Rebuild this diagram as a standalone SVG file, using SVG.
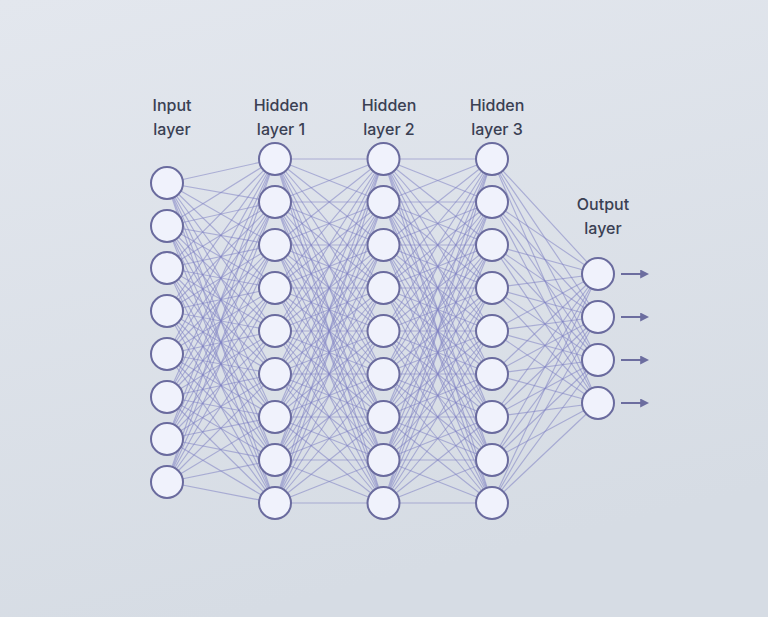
<svg xmlns="http://www.w3.org/2000/svg" width="768" height="617" viewBox="0 0 768 617">
<defs>
<linearGradient id="bg" x1="0" y1="0" x2="0.3" y2="1">
<stop offset="0" stop-color="#e3e7ee"/>
<stop offset="1" stop-color="#d6dce4"/>
</linearGradient>
<marker id="arr" viewBox="0 0 10 10" refX="2" refY="5" markerWidth="4.5" markerHeight="4.5" orient="auto" markerUnits="strokeWidth">
<path d="M0 0L10 5L0 10z" fill="#6c6d9f"/>
</marker>
<style>
.n{fill:#f0f2fc;stroke:#6a6b9e;stroke-width:2}
.e path{fill:none;stroke:#7f81c2;stroke-opacity:0.55;stroke-width:1.15}
.lbl{font-family:Inter,"Liberation Sans",sans-serif;font-size:16px;font-weight:500;fill:#3a4053;text-anchor:middle}
.ar{stroke:#6c6d9f;stroke-width:2}
</style>
</defs>
<rect width="768" height="617" fill="url(#bg)"/>

<g id="connectors">
<g class="e" id="edges-0-1">
<path d="M275 159L167 183 275 202 167 183 275 245 167 183 275 288 167 183 275 331 167 183 275 374 167 183 275 417 167 183 275 460 167 183 275 503"/>
<path d="M275 159L167 226 275 202 167 226 275 245 167 226 275 288 167 226 275 331 167 226 275 374 167 226 275 417 167 226 275 460 167 226 275 503"/>
<path d="M275 159L167 268 275 202 167 268 275 245 167 268 275 288 167 268 275 331 167 268 275 374 167 268 275 417 167 268 275 460 167 268 275 503"/>
<path d="M275 159L167 311 275 202 167 311 275 245 167 311 275 288 167 311 275 331 167 311 275 374 167 311 275 417 167 311 275 460 167 311 275 503"/>
<path d="M275 159L167 354 275 202 167 354 275 245 167 354 275 288 167 354 275 331 167 354 275 374 167 354 275 417 167 354 275 460 167 354 275 503"/>
<path d="M275 159L167 397 275 202 167 397 275 245 167 397 275 288 167 397 275 331 167 397 275 374 167 397 275 417 167 397 275 460 167 397 275 503"/>
<path d="M275 159L167 439 275 202 167 439 275 245 167 439 275 288 167 439 275 331 167 439 275 374 167 439 275 417 167 439 275 460 167 439 275 503"/>
<path d="M275 159L167 482 275 202 167 482 275 245 167 482 275 288 167 482 275 331 167 482 275 374 167 482 275 417 167 482 275 460 167 482 275 503"/>
</g>
<g class="e" id="edges-1-2">
<path d="M383.5 159L275 159 383.5 202 275 159 383.5 245 275 159 383.5 288 275 159 383.5 331 275 159 383.5 374 275 159 383.5 417 275 159 383.5 460 275 159 383.5 503"/>
<path d="M383.5 159L275 202 383.5 202 275 202 383.5 245 275 202 383.5 288 275 202 383.5 331 275 202 383.5 374 275 202 383.5 417 275 202 383.5 460 275 202 383.5 503"/>
<path d="M383.5 159L275 245 383.5 202 275 245 383.5 245 275 245 383.5 288 275 245 383.5 331 275 245 383.5 374 275 245 383.5 417 275 245 383.5 460 275 245 383.5 503"/>
<path d="M383.5 159L275 288 383.5 202 275 288 383.5 245 275 288 383.5 288 275 288 383.5 331 275 288 383.5 374 275 288 383.5 417 275 288 383.5 460 275 288 383.5 503"/>
<path d="M383.5 159L275 331 383.5 202 275 331 383.5 245 275 331 383.5 288 275 331 383.5 331 275 331 383.5 374 275 331 383.5 417 275 331 383.5 460 275 331 383.5 503"/>
<path d="M383.5 159L275 374 383.5 202 275 374 383.5 245 275 374 383.5 288 275 374 383.5 331 275 374 383.5 374 275 374 383.5 417 275 374 383.5 460 275 374 383.5 503"/>
<path d="M383.5 159L275 417 383.5 202 275 417 383.5 245 275 417 383.5 288 275 417 383.5 331 275 417 383.5 374 275 417 383.5 417 275 417 383.5 460 275 417 383.5 503"/>
<path d="M383.5 159L275 460 383.5 202 275 460 383.5 245 275 460 383.5 288 275 460 383.5 331 275 460 383.5 374 275 460 383.5 417 275 460 383.5 460 275 460 383.5 503"/>
<path d="M383.5 159L275 503 383.5 202 275 503 383.5 245 275 503 383.5 288 275 503 383.5 331 275 503 383.5 374 275 503 383.5 417 275 503 383.5 460 275 503 383.5 503"/>
</g>
<use href="#edges-1-2" id="edges-2-3" transform="translate(108.5 0)"/>
<g class="e" id="edges-3-4">
<path d="M492 159L598 274 492 202 598 274 492 245 598 274 492 288 598 274 492 331 598 274 492 374 598 274 492 417 598 274 492 460 598 274 492 503"/>
<path d="M492 159L598 317 492 202 598 317 492 245 598 317 492 288 598 317 492 331 598 317 492 374 598 317 492 417 598 317 492 460 598 317 492 503"/>
<path d="M492 159L598 360 492 202 598 360 492 245 598 360 492 288 598 360 492 331 598 360 492 374 598 360 492 417 598 360 492 460 598 360 492 503"/>
<path d="M492 159L598 403 492 202 598 403 492 245 598 403 492 288 598 403 492 331 598 403 492 374 598 403 492 417 598 403 492 460 598 403 492 503"/>
</g>
<g id="outputs">
<line class="ar" x1="621" y1="274" x2="642" y2="274" marker-end="url(#arr)"/>
<line class="ar" x1="621" y1="317" x2="642" y2="317" marker-end="url(#arr)"/>
<line class="ar" x1="621" y1="360" x2="642" y2="360" marker-end="url(#arr)"/>
<line class="ar" x1="621" y1="403" x2="642" y2="403" marker-end="url(#arr)"/>
</g>
</g>

<g id="labels">
<text class="lbl" x="172" y="110.5">Input</text>
<text class="lbl" x="172" y="134.5">layer</text>
<text class="lbl" x="281" y="110.5">Hidden</text>
<text class="lbl" x="281" y="134.5">layer 1</text>
<text class="lbl" x="389" y="110.5">Hidden</text>
<text class="lbl" x="389" y="134.5">layer 2</text>
<text class="lbl" x="497" y="110.5">Hidden</text>
<text class="lbl" x="497" y="134.5">layer 3</text>
<text class="lbl" x="603" y="209.5">Output</text>
<text class="lbl" x="603" y="233.5">layer</text>
</g>

<g id="input-layer">
<g id="in1"><circle class="n" cx="167" cy="183" r="16"/></g>
<g id="in2"><circle class="n" cx="167" cy="226" r="16"/></g>
<g id="in3"><circle class="n" cx="167" cy="268" r="16"/></g>
<g id="in4"><circle class="n" cx="167" cy="311" r="16"/></g>
<g id="in5"><circle class="n" cx="167" cy="354" r="16"/></g>
<g id="in6"><circle class="n" cx="167" cy="397" r="16"/></g>
<g id="in7"><circle class="n" cx="167" cy="439" r="16"/></g>
<g id="in8"><circle class="n" cx="167" cy="482" r="16"/></g>
</g>
<g id="hidden-layer-1">
<g id="h1n1"><circle class="n" cx="275" cy="159" r="16"/></g>
<g id="h1n2"><circle class="n" cx="275" cy="202" r="16"/></g>
<g id="h1n3"><circle class="n" cx="275" cy="245" r="16"/></g>
<g id="h1n4"><circle class="n" cx="275" cy="288" r="16"/></g>
<g id="h1n5"><circle class="n" cx="275" cy="331" r="16"/></g>
<g id="h1n6"><circle class="n" cx="275" cy="374" r="16"/></g>
<g id="h1n7"><circle class="n" cx="275" cy="417" r="16"/></g>
<g id="h1n8"><circle class="n" cx="275" cy="460" r="16"/></g>
<g id="h1n9"><circle class="n" cx="275" cy="503" r="16"/></g>
</g>
<g id="hidden-layer-2">
<g id="h2n1"><circle class="n" cx="383.5" cy="159" r="16"/></g>
<g id="h2n2"><circle class="n" cx="383.5" cy="202" r="16"/></g>
<g id="h2n3"><circle class="n" cx="383.5" cy="245" r="16"/></g>
<g id="h2n4"><circle class="n" cx="383.5" cy="288" r="16"/></g>
<g id="h2n5"><circle class="n" cx="383.5" cy="331" r="16"/></g>
<g id="h2n6"><circle class="n" cx="383.5" cy="374" r="16"/></g>
<g id="h2n7"><circle class="n" cx="383.5" cy="417" r="16"/></g>
<g id="h2n8"><circle class="n" cx="383.5" cy="460" r="16"/></g>
<g id="h2n9"><circle class="n" cx="383.5" cy="503" r="16"/></g>
</g>
<g id="hidden-layer-3">
<g id="h3n1"><circle class="n" cx="492" cy="159" r="16"/></g>
<g id="h3n2"><circle class="n" cx="492" cy="202" r="16"/></g>
<g id="h3n3"><circle class="n" cx="492" cy="245" r="16"/></g>
<g id="h3n4"><circle class="n" cx="492" cy="288" r="16"/></g>
<g id="h3n5"><circle class="n" cx="492" cy="331" r="16"/></g>
<g id="h3n6"><circle class="n" cx="492" cy="374" r="16"/></g>
<g id="h3n7"><circle class="n" cx="492" cy="417" r="16"/></g>
<g id="h3n8"><circle class="n" cx="492" cy="460" r="16"/></g>
<g id="h3n9"><circle class="n" cx="492" cy="503" r="16"/></g>
</g>
<g id="output-layer">
<g id="o1"><circle class="n" cx="598" cy="274" r="16"/></g>
<g id="o2"><circle class="n" cx="598" cy="317" r="16"/></g>
<g id="o3"><circle class="n" cx="598" cy="360" r="16"/></g>
<g id="o4"><circle class="n" cx="598" cy="403" r="16"/></g>
</g>
</svg>
